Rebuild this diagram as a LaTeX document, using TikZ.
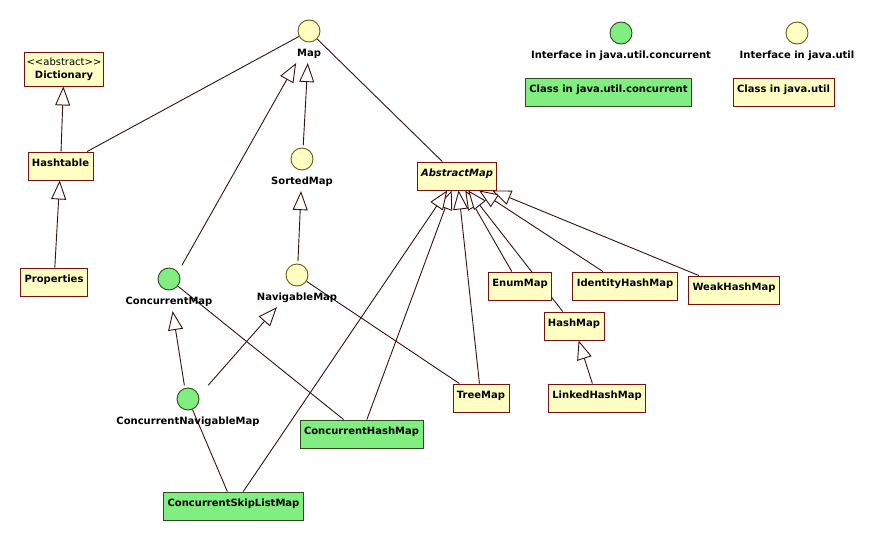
\documentclass[tikz,border=0pt]{standalone}
\usepackage{fontspec}
\setmainfont{DejaVu Sans}
\usetikzlibrary{arrows.meta,calc,fit}
\pgfdeclarelayer{bg}
\pgfsetlayers{bg,main}
\definecolor{ify}{HTML}{FFFFC4}
\definecolor{ifg}{HTML}{80EE80}
\definecolor{bdy}{HTML}{7A1010}
\definecolor{bdg}{HTML}{2E4A1E}
\definecolor{lnc}{HTML}{3A1010}
\definecolor{cby}{HTML}{6A5A10}
\begin{document}
\begin{tikzpicture}[x=1pt,y=-1pt,
  every node/.style={font=\fontsize{10}{12}\selectfont\bfseries},
  cls/.style={rectangle, draw=bdy, fill=ify, line width=0.9pt, inner xsep=4pt, inner ysep=3.5pt, text height=10.6pt, text depth=10.4pt},
  ccls/.style={cls, draw=bdg, fill=ifg},
  ifc/.style={circle, draw=cby, fill=ify, line width=0.9pt, minimum size=22pt, inner sep=0pt},
  cifc/.style={ifc, draw=bdg, fill=ifg},
  ilbl/.style={anchor=base, inner sep=2pt},
  grp/.style={inner sep=2pt},
  inh/.style={draw=lnc, line width=0.9pt, -{Triangle[length=19pt,width=15pt,fill=white]}},
  assoc/.style={draw=lnc, line width=0.9pt}]
\useasboundingbox (0,0) rectangle (893,541);

% interfaces
\node[ifc] (mapC) at (309,31) {};
\node[ilbl] (mapL) at ($(mapC)+(0,25.6)$) {Map};
\node[grp, fit=(mapC)(mapL)] (map) {};

\node[ifc] (smC) at (302,159) {};
\node[ilbl] (smL) at ($(smC)+(0,25.6)$) {SortedMap};
\node[grp, fit=(smC)(smL)] (sm) {};

\node[cifc] (cmC) at (169,279) {};
\node[ilbl] (cmL) at ($(cmC)+(0,25.6)$) {ConcurrentMap};
\node[grp, fit=(cmC)(cmL)] (cm) {};

\node[ifc] (nmC) at (297,275) {};
\node[ilbl] (nmL) at ($(nmC)+(0,25.6)$) {NavigableMap};
\node[grp, fit=(nmC)(nmL)] (nm) {};

\node[cifc] (cnmC) at (188,399) {};
\node[ilbl] (cnmL) at ($(cnmC)+(0,25.6)$) {ConcurrentNavigableMap};
\node[grp, fit=(cnmC)(cnmL)] (cnm) {};

% classes
\node[draw=bdy, fill=ify, line width=0.9pt, align=center, inner xsep=2.5pt, inner ysep=3pt, minimum height=34pt, font=\fontsize{10}{13}\selectfont\bfseries] (dict) at (64,69) {{\mdseries <{}<abstract>{}>}\\Dictionary};
\node[cls] (ht) at (60.5,166) {Hashtable};
\node[cls] (props) at (54,282) {Properties};
\node[cls, font=\fontsize{10}{12}\selectfont\bfseries\itshape] (am) at (457,176) {AbstractMap};
\node[ccls] (chm) at (361.5,434) {ConcurrentHashMap};
\node[ccls] (cslm) at (233.5,506) {ConcurrentSkipListMap};
\node[cls] (em) at (520,286) {EnumMap};
\node[cls] (idm) at (625,286) {IdentityHashMap};
\node[cls] (whm) at (734,290) {WeakHashMap};
\node[cls] (hm) at (574,326) {HashMap};
\node[cls] (tm) at (481,398) {TreeMap};
\node[cls] (lhm) at (597,398) {LinkedHashMap};

% legend
\node[cifc] (lgC) at (621,33) {};
\node[ilbl] (lgL) at ($(lgC)+(0,25.6)$) {Interface in java.util.concurrent};
\node[ifc] (lyC) at (797,33) {};
\node[ilbl] (lyL) at ($(lyC)+(0,25.6)$) {Interface in java.util};
\node[ccls] (lgB) at (608.5,92) {Class in java.util.concurrent};
\node[cls] (lyB) at (783.5,92) {Class in java.util};

\begin{pgfonlayer}{bg}
\fill[white] (0,0) rectangle (893,541);
\draw[inh] (ht) -- (dict);
\draw[inh] (props) -- (ht);
\draw[assoc] (ht) -- (mapC);
\draw[assoc] (mapC) -- (am);
\draw[inh] (cm) -- (map);
\draw[inh] (sm) -- (map);
\draw[inh] (nm) -- (sm);
\draw[inh] (cnm) -- (cm);
\draw[inh] (cnm) -- (nm);
\draw[assoc] (cmC) -- (chm);
\draw[assoc] (cnmC) -- (cslm);
\draw[assoc] (nmC) -- (tm);
\draw[inh] (chm) -- (am);
\draw[inh] (cslm) -- (am);
\draw[inh] (tm) -- (am);
\draw[inh] (em) -- (am);
\draw[inh] (hm) -- (am);
\draw[inh] (idm) -- (am);
\draw[inh] (whm) -- (am);
\draw[inh] (lhm) -- (hm);
\end{pgfonlayer}
\end{tikzpicture}
\end{document}
